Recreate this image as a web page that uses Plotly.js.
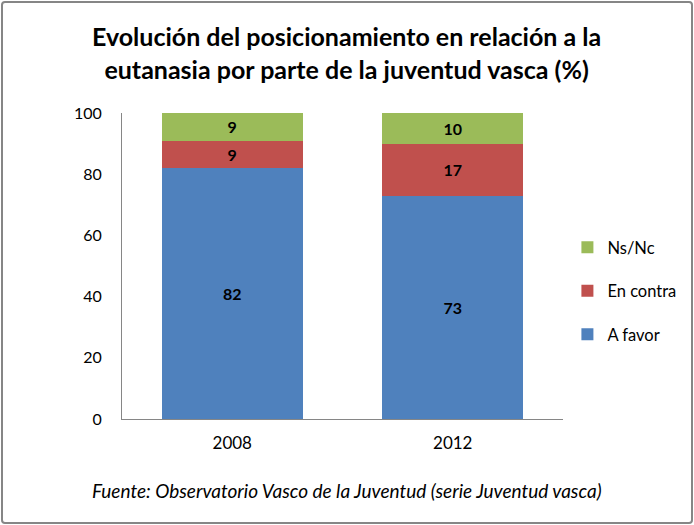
<!DOCTYPE html>
<html>
<head>
<meta charset="utf-8">
<script src="https://cdn.plot.ly/plotly-3.0.1.min.js"></script>
<style>
  body { margin: 0; background: #fff; }
  #wrap { position: relative; width: 694px; height: 525px; }
  #chart { width: 694px; height: 525px; }
  #frame { position: absolute; left: 1px; top: 1px; width: 688px; height: 519px;
           border: 2px solid #868686; border-radius: 4px; pointer-events: none; }
</style>
</head>
<body>
<div id="wrap">
  <div id="chart"></div>
  <div id="frame"></div>
</div>
<script>
// chart values
var years = ['2008', '2012'];
var aFavor = [82, 73];
var enContra = [9, 17];
var nsNc = [9, 10];

var font = 'Lato, "Open Sans", sans-serif';

function series(name, vals, color, rank) {
  return {
    type: 'bar',
    name: name,
    x: years,
    y: vals,
    text: vals.map(String),
    textposition: 'inside',
    insidetextanchor: 'middle',
    textangle: 0,
    constraintext: 'none',
    textfont: { family: font, size: 16, color: '#000', weight: 'bold' },
    marker: { color: color },
    legendgroup: name,
    legendrank: rank,
    hoverinfo: 'x+y+name'
  };
}

var data = [
  series('A favor', aFavor, '#4F81BD', 3),
  series('En contra', enContra, '#C0504D', 2),
  series('Ns/Nc', nsNc, '#9BBB59', 1)
];

var layout = {
  width: 694,
  height: 525,
  barmode: 'stack',
  bargap: 0.36,
  paper_bgcolor: '#fff',
  plot_bgcolor: '#fff',
  margin: { l: 122, r: 131, t: 113, b: 106 },
  font: { family: font, size: 15, color: '#000' },
  xaxis: {
    showline: true, linecolor: '#868686', linewidth: 1,
    ticks: '', tickfont: { size: 17 }, ticklabelstandoff: 9
  },
  yaxis: {
    range: [0, 100], dtick: 20, showgrid: false, zeroline: false,
    showline: true, linecolor: '#868686', linewidth: 1,
    ticks: '', tickfont: { size: 16 }, ticklabelstandoff: 16
  },
  legend: {
    x: 1.01, xanchor: 'left', y: 0.418, yanchor: 'middle',
    traceorder: 'grouped', tracegroupgap: 19,
    font: { size: 16.5 }, itemwidth: 30
  },
  annotations: [{
    text: '<b>Evolución del posicionamiento en relación a la<br>eutanasia por parte de la juventud vasca (%)</b>',
    xref: 'paper', yref: 'paper', x: 0.51, y: 1.199,
    xanchor: 'center', yanchor: 'middle', showarrow: false,
    font: { family: font, size: 25, color: '#000' }
  }, {
    text: 'Fuente: Observatorio Vasco de la Juventud (serie Juventud vasca)',
    xref: 'paper', yref: 'paper', x: 0.51, y: -0.235,
    xanchor: 'center', yanchor: 'middle', showarrow: false,
    font: { family: font, size: 19, style: 'italic', color: '#000' }
  }]
};

Plotly.newPlot('chart', data, layout, { displayModeBar: false, staticPlot: true });
</script>
</body>
</html>
